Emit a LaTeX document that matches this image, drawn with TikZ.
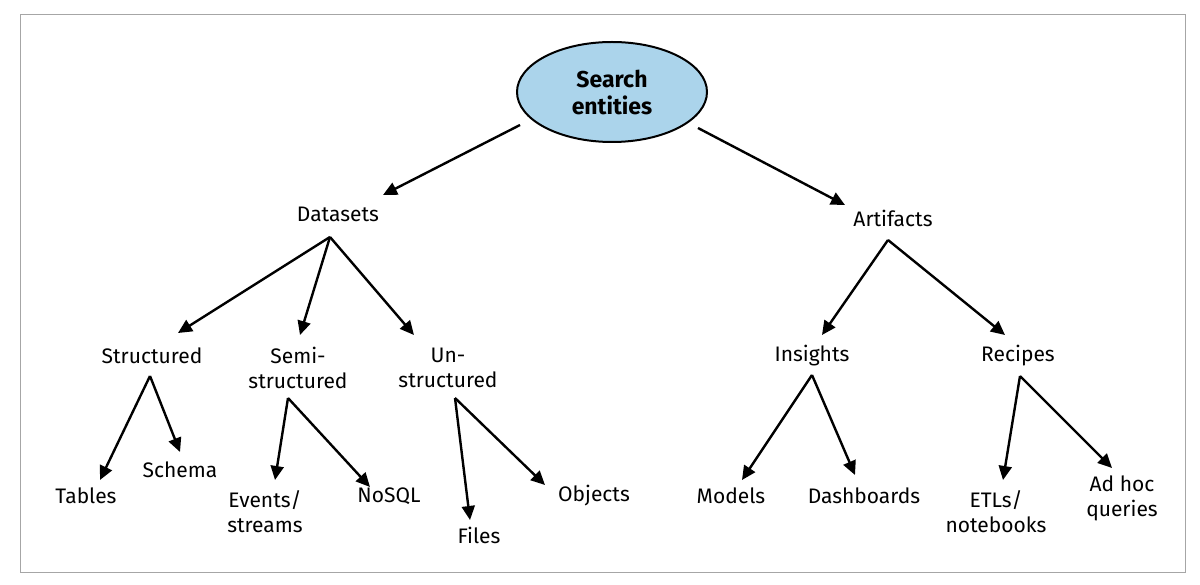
\documentclass[tikz,border=0pt]{standalone}
\usepackage{fontspec}
\setmainfont{Fira Sans}
\usetikzlibrary{shapes.geometric,arrows.meta}
\begin{document}
\begin{tikzpicture}[x=1pt,y=-1pt,
  lbl/.style={font=\fontsize{21}{25}\selectfont, align=center, inner sep=0},
  arr/.style={line width=2.4pt, -{Triangle[length=14pt,width=13pt]}}]
\useasboundingbox (0,0) rectangle (1200,585);
\draw[gray!70, line width=1pt] (20,15) rectangle (1185,572);
\node[ellipse, draw, line width=2pt, fill={rgb,255:red,171;green,212;blue,235}, minimum width=190pt, minimum height=100pt, font=\bfseries\fontsize{23}{27}\selectfont, align=center] (root) at (612,92) {Search\\entities};
\node[lbl] (ds) at (338,214) {Datasets};
\node[lbl] (af) at (893,218) {Artifacts};
\node[lbl] (st) at (152,356) {Structured};
\node[lbl] (se) at (298,368) {Semi-\\structured};
\node[lbl] (un) at (448,368) {Un-\\structured};
\node[lbl] (in) at (812,356) {Insights};
\node[lbl] (re) at (1018,356) {Recipes};
\node[lbl] (ta) at (86,496) {Tables};
\node[lbl] (sc) at (180,470) {Schema};
\node[lbl] (ev) at (265,512) {Events/\\streams};
\node[lbl] (no) at (389,496) {NoSQL};
\node[lbl] (fi) at (479,535) {Files};
\node[lbl] (ob) at (594,496) {Objects};
\node[lbl] (mo) at (731,496) {Models};
\node[lbl] (da) at (864,496) {Dashboards};
\node[lbl] (et) at (996,512) {ETLs/\\notebooks};
\node[lbl] (ad) at (1122,498) {Ad hoc\\queries};
% connector start/end points
\coordinate (r1) at (520,125); \coordinate (r2) at (698,128);
\coordinate (dsB) at (330,237); \coordinate (afB) at (888,240);
\coordinate (stB) at (150,376); \coordinate (seB) at (288,398);
\coordinate (unB) at (455,398); \coordinate (inB) at (812,375);
\coordinate (reB) at (1020,376);
\coordinate (dsT) at (383,195); \coordinate (afT) at (845,205);
\coordinate (stT) at (178,333); \coordinate (seT) at (300,335); \coordinate (unT) at (414,335);
\coordinate (inT) at (822,335); \coordinate (reT) at (1005,335);
\coordinate (taT) at (100,480); \coordinate (scT) at (180,452);
\coordinate (evT) at (275,480); \coordinate (noT) at (370,487);
\coordinate (fiT) at (470,520); \coordinate (obT) at (545,485);
\coordinate (moT) at (742,480); \coordinate (daT) at (855,475);
\coordinate (etT) at (1003,480); \coordinate (adT) at (1112,468);
\draw[arr] (r1) -- (dsT);
\draw[arr] (r2) -- (afT);
\draw[arr] (dsB) -- (stT);
\draw[arr] (dsB) -- (seT);
\draw[arr] (dsB) -- (unT);
\draw[arr] (afB) -- (inT);
\draw[arr] (afB) -- (reT);
\draw[arr] (stB) -- (taT);
\draw[arr] (stB) -- (scT);
\draw[arr] (seB) -- (evT);
\draw[arr] (seB) -- (noT);
\draw[arr] (unB) -- (fiT);
\draw[arr] (unB) -- (obT);
\draw[arr] (inB) -- (moT);
\draw[arr] (inB) -- (daT);
\draw[arr] (reB) -- (etT);
\draw[arr] (reB) -- (adT);
\end{tikzpicture}
\end{document}
